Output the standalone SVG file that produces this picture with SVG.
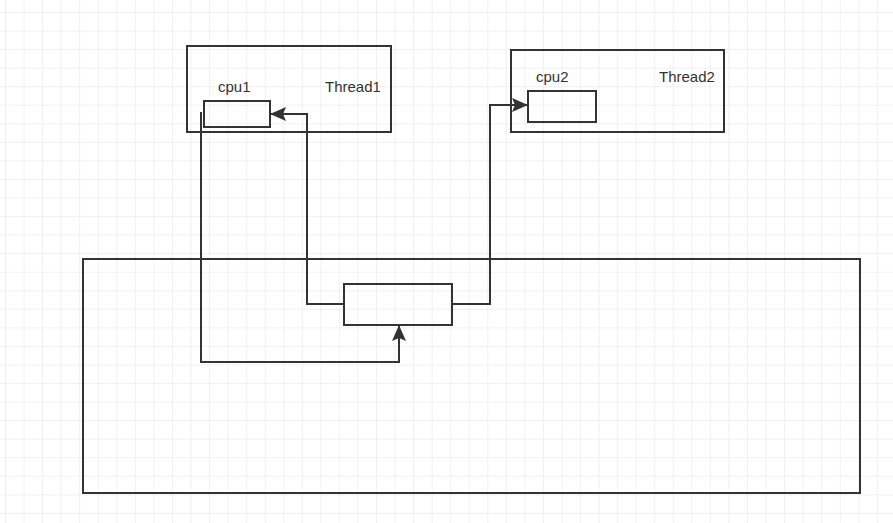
<svg xmlns="http://www.w3.org/2000/svg" width="893" height="523" viewBox="0 0 893 523">
<defs>
<pattern id="g" width="18.55" height="18.55" patternUnits="userSpaceOnUse" x="5" y="12"><path d="M0 0H18.55M0 0V18.55" stroke="#e3e3e3" stroke-width="1" fill="none"/></pattern>
<marker id="a" markerWidth="16" markerHeight="14" refX="15" refY="7" orient="auto" markerUnits="userSpaceOnUse"><path d="M0 0L16 7L0 14L3 7Z" fill="#333"/></marker>
<style>.b{fill:none;stroke:#333;stroke-width:2}.t{font-family:"Liberation Sans",Arial,sans-serif;font-size:15px;fill:#333}.c{fill:none;stroke:#333;stroke-width:2}</style>
</defs>
<rect width="893" height="523" fill="#fff"/>
<rect width="893" height="523" fill="url(#g)"/>
<g id="thread1"><rect class="b" x="187" y="46" width="204" height="86"/><text class="t" x="325" y="92">Thread1</text></g>
<g id="cpu1"><rect class="b" x="204" y="101" width="66" height="26"/><text class="t" x="218" y="92">cpu1</text></g>
<g id="thread2"><rect class="b" x="511" y="50" width="213" height="82"/><text class="t" x="659" y="82">Thread2</text></g>
<g id="cpu2"><rect class="b" x="528" y="91" width="68" height="31"/><text class="t" x="536" y="82">cpu2</text></g>
<g id="memory"><rect class="b" x="83" y="259" width="777" height="234"/></g>
<g id="shared"><rect class="b" x="344" y="284" width="108" height="41"/></g>
<g id="connectors">
<path class="c" d="M201 112V362H399V326" marker-end="url(#a)"/>
<path class="c" d="M344 304H307V114H271" marker-end="url(#a)"/>
<path class="c" d="M452 304H490V105H527" marker-end="url(#a)"/>
</g>
</svg>
